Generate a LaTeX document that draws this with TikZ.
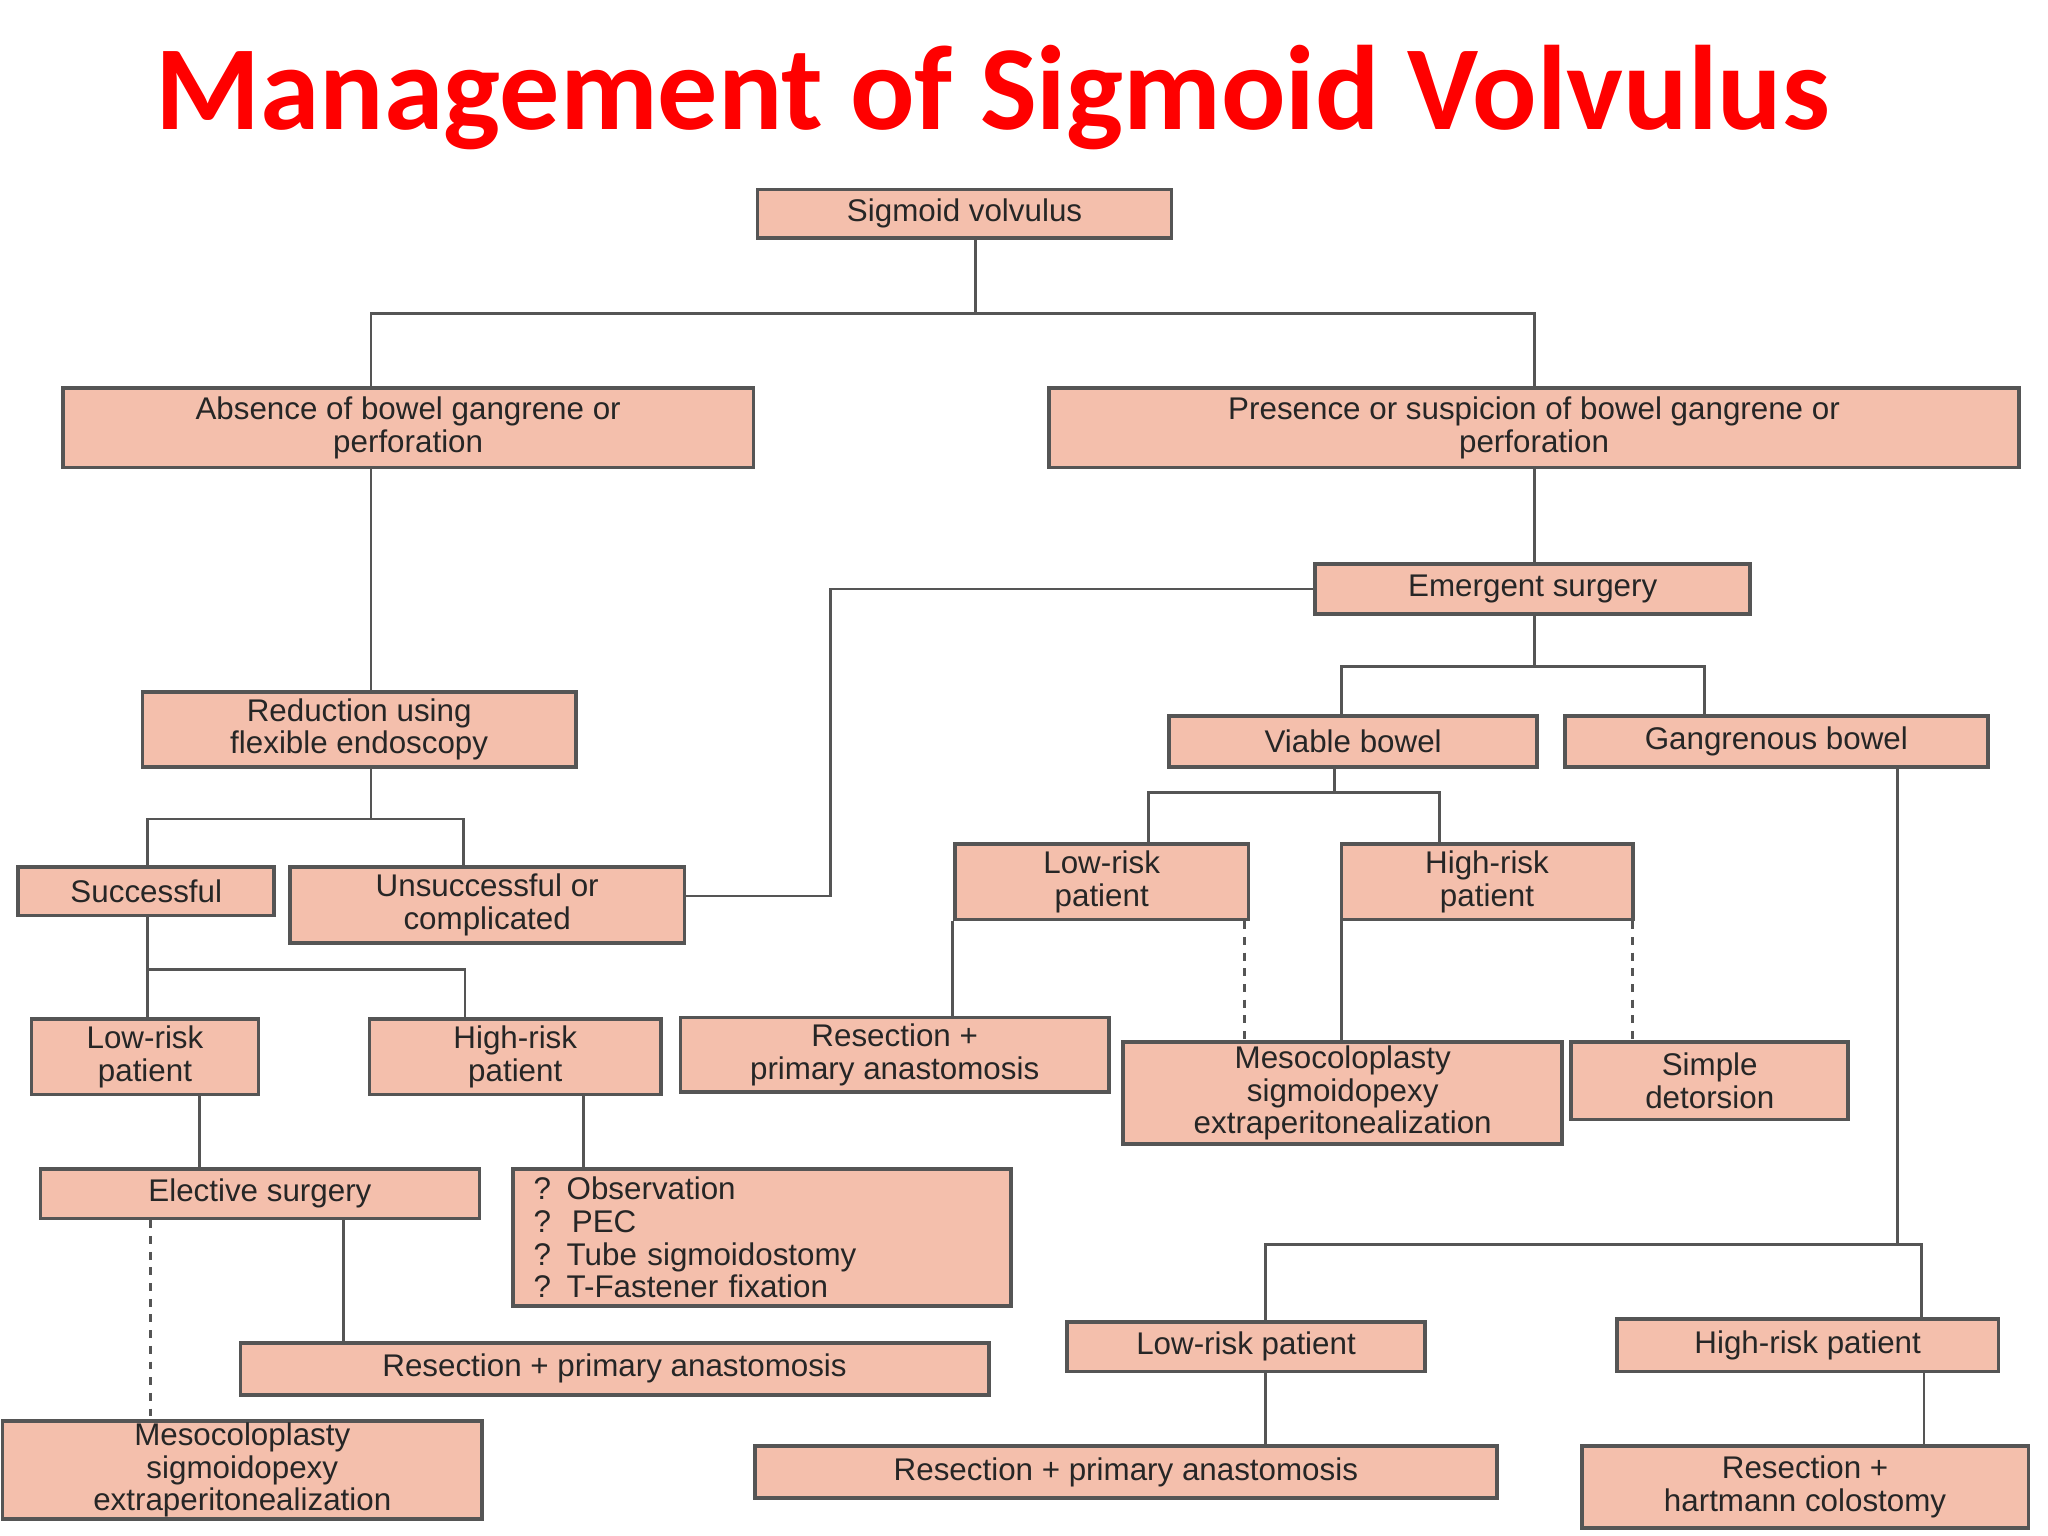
\documentclass[tikz,border=0pt]{standalone}
\usepackage{fontspec}
\setmainfont{Liberation Sans}
\newfontfamily\titlefont{Carlito}
\begin{document}
\begin{tikzpicture}[x=0.5pt,y=-0.5pt]
\useasboundingbox (0,0) rectangle (1568,1176);
\fill[white] (0,0) rectangle (1568,1176);
\definecolor{boxfill}{HTML}{F4BFAC}
\definecolor{boxline}{HTML}{555555}
\tikzset{bx/.style={fill=boxfill,draw=boxline,line width=1.4pt,inner sep=0pt,font=\fontsize{12}{12.5}\selectfont,text=black!85,align=center},
ln/.style={draw=boxline,line width=1.1pt},
dl/.style={ln,dashed}}
\newcommand\bx[6]{\node[bx,minimum width=(#4-#2)*0.5pt,minimum height=(#5-#3)*0.5pt] (#1) at ({(#2+#4)/2},{(#3+#5)/2}) {#6};}
\node[text=red,font=\titlefont\bfseries\fontsize{46}{50}\selectfont] (title) at (760,75) {Management of Sigmoid Volvulus};
\bx{sv}{580}{145}{897}{182}{Sigmoid volvulus}
\bx{abs}{48}{297}{577}{358}{Absence of bowel gangrene or\\perforation}
\bx{pres}{803}{297}{1546}{358}{Presence or suspicion of bowel gangrene or\\perforation}
\bx{em}{1007}{432}{1340}{470}{Emergent surgery}
\bx{red}{109}{530}{441}{587}{Reduction using\\flexible endoscopy}
\bx{via}{895}{548}{1177}{587}{Viable bowel}
\bx{gan}{1198}{548}{1522}{587}{Gangrenous bowel}
\bx{suc}{14}{664}{210}{701}{Successful}
\bx{uns}{222}{664}{524}{722}{Unsuccessful or\\complicated}
\bx{lrm}{731}{646}{956}{704}{Low-risk\\patient}
\bx{hrm}{1027}{646}{1250}{704}{High-risk\\patient}
\bx{lrl}{24}{780}{198}{838}{Low-risk\\patient}
\bx{hrl}{283}{780}{506}{838}{High-risk\\patient}
\bx{rpm}{521}{779}{849}{836}{Resection +\\primary anastomosis}
\bx{mem}{860}{798}{1196}{876}{Mesocoloplasty\\sigmoidopexy\\extraperitonealization}
\bx{sd}{1203}{798}{1415}{857}{Simple\\detorsion}
\bx{el}{31}{895}{367}{933}{Elective surgery}
\node[bx,minimum width=190.5pt,minimum height=52.5pt,align=left,text width=175pt] (obs) at (583.5,947.5) {? Observation\\?\ \ PEC\\? Tube sigmoidostomy\\? T-Fastener fixation};
\bx{rpl}{184}{1028}{757}{1068}{Resection + primary anastomosis}
\bx{lrb}{817}{1012}{1091}{1050}{Low-risk patient}
\bx{hrb}{1238}{1010}{1530}{1050}{High-risk patient}
\bx{mel}{2}{1088}{369}{1163}{Mesocoloplasty\\sigmoidopexy\\extraperitonealization}
\bx{rpb}{578}{1107}{1146}{1147}{Resection + primary anastomosis}
\bx{rh}{1211}{1107}{1553}{1170}{Resection +\\hartmann colostomy}
% connectors
\draw[ln] (sv.south -| 747,0) -- (747,240) coordinate (j1);
\draw[ln] (abs.north -| 284,0) |- (j1) -| (pres.north -| 1175,0);
\draw[ln] (abs.south -| 284,0) -- (red.north -| 284,0);
\draw[ln] (pres.south -| 1175,0) -- (em.north -| 1175,0);
\draw[ln] (em.west) -| (636,686) -- (uns.east |- 0,686);
\draw[ln] (em.south -| 1175,0) -- (1175,510) coordinate (j2);
\draw[ln] (via.north -| 1027,0) |- (j2) -| (gan.north -| 1305,0);
\draw[ln] (red.south -| 284,0) -- (284,627) coordinate (j3);
\draw[ln] (suc.north -| 113,0) |- (j3) -| (uns.north -| 355,0);
\draw[ln] (via.south -| 1022,0) -- (1022,607) coordinate (j4);
\draw[ln] (lrm.north -| 879,0) |- (j4) -| (hrm.north -| 1102,0);
\draw[ln] (suc.south -| 113,0) -- (lrl.north -| 113,0);
\draw[ln] (113,742) -| (hrl.north -| 356,0);
\draw[ln] (lrl.south -| 153,0) -- (el.north -| 153,0);
\draw[ln] (hrl.south -| 447,0) -- (obs.north -| 447,0);
\draw[dl] (el.south -| 115,0) -- (mel.north -| 115,0);
\draw[ln] (el.south -| 263,0) -- (rpl.north -| 263,0);
\draw[ln] (lrm.south -| 729,0) -- (rpm.north -| 729,0);
\draw[dl] (lrm.south -| 953,0) -- (mem.north -| 953,0);
\draw[ln] (hrm.south -| 1027,0) -- (mem.north -| 1027,0);
\draw[dl] (hrm.south -| 1250,0) -- (sd.north -| 1250,0);
\draw[ln] (gan.south -| 1453,0) -- (1453,953) coordinate (j5);
\draw[ln] (lrb.north -| 969,0) |- (j5) -| (hrb.north -| 1471,0);
\draw[ln] (lrb.south -| 969,0) -- (rpb.north -| 969,0);
\draw[ln] (hrb.south -| 1473,0) -- (rh.north -| 1473,0);
\end{tikzpicture}
\end{document}
